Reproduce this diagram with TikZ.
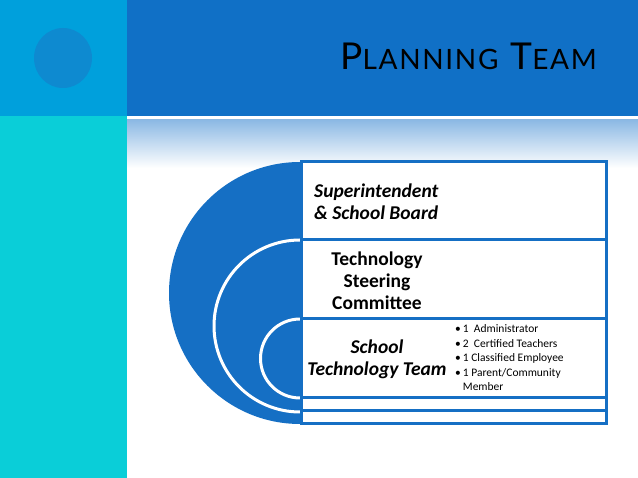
\documentclass[tikz,border=0pt]{standalone}
\usepackage{fontspec}
\setmainfont{Carlito}
\newfontfamily\titlefont[LetterSpace=6]{Lato}
\usepackage{tikz}

\definecolor{bannerblue}{RGB}{16,112,198}
\definecolor{cornerblue}{RGB}{0,160,220}
\definecolor{dotblue}{RGB}{14,138,208}
\definecolor{stripcyan}{RGB}{10,206,216}
\definecolor{fadeblue}{RGB}{140,185,228}
\definecolor{diagblue}{RGB}{21,111,196}

\tikzset{
	rowbox/.style={draw=diagblue, line width=3pt, fill=white},
	ring/.style={draw=white, line width=3pt},
	rowtext/.style={inner sep=0pt, font=\fontsize{19.5}{22}\selectfont\bfseries},
}

\begin{document}
\begin{tikzpicture}[x=1pt, y=-1pt]
	\useasboundingbox (0,0) rectangle (638,478);
	
	\fill[cornerblue] (0,0) rectangle (127,116);
	\fill[stripcyan] (0,116) rectangle (127,478);
	\fill[dotblue] (63,58) ellipse (29 and 30);
	\fill[bannerblue] (127,0) rectangle (638,116);
	\fill[white] (127,116) rectangle (638,478);
	\shade[top color=fadeblue, bottom color=white] (127,120) rectangle (638,168);
	
	\node[anchor=base east, inner sep=0pt] (title) at (597,70)
		{\titlefont\fontsize{37}{37}\selectfont P\fontsize{28}{28}\selectfont LANNING\hspace{12pt}\fontsize{37}{37}\selectfont T\fontsize{28}{28}\selectfont EAM};
	
	\fill[diagblue] (300,162) arc (270:90:131) -- cycle;
	\draw[ring] (300,240) arc (270:90:86);
	\draw[ring] (300,319) arc (270:90:39.5);
	
	\draw[rowbox] (301,162) rectangle (606,240);
	\draw[rowbox] (301,240) rectangle (606,319);
	\draw[rowbox] (301,319) rectangle (606,398);
	\draw[rowbox] (301,398) rectangle (606,411);
	\draw[rowbox] (301,411) rectangle (606,424);
	
	\node[rowtext, anchor=west, align=left] (board) at (314,202)
		{\itshape Superintendent\\\itshape \& School Board};
	\node[rowtext, align=center] (steering) at (377,281)
		{Technology\\Steering\\Committee};
	\node[rowtext, align=center] (team) at (377,359)
		{\itshape School\\\itshape Technology Team};
	\node[anchor=west, inner sep=0pt, font=\fontsize{11.5}{14.5}\selectfont] (members) at (455,359)
		{\begin{tabular}{@{}l@{\hspace{2pt}}l@{}}
		\textbullet & 1\ \ Administrator\\
		\textbullet & 2\ \ Certified Teachers\\
		\textbullet & 1 Classified Employee\\
		\textbullet & 1 Parent/Community\\
		& Member
		\end{tabular}};
\end{tikzpicture}
\end{document}
